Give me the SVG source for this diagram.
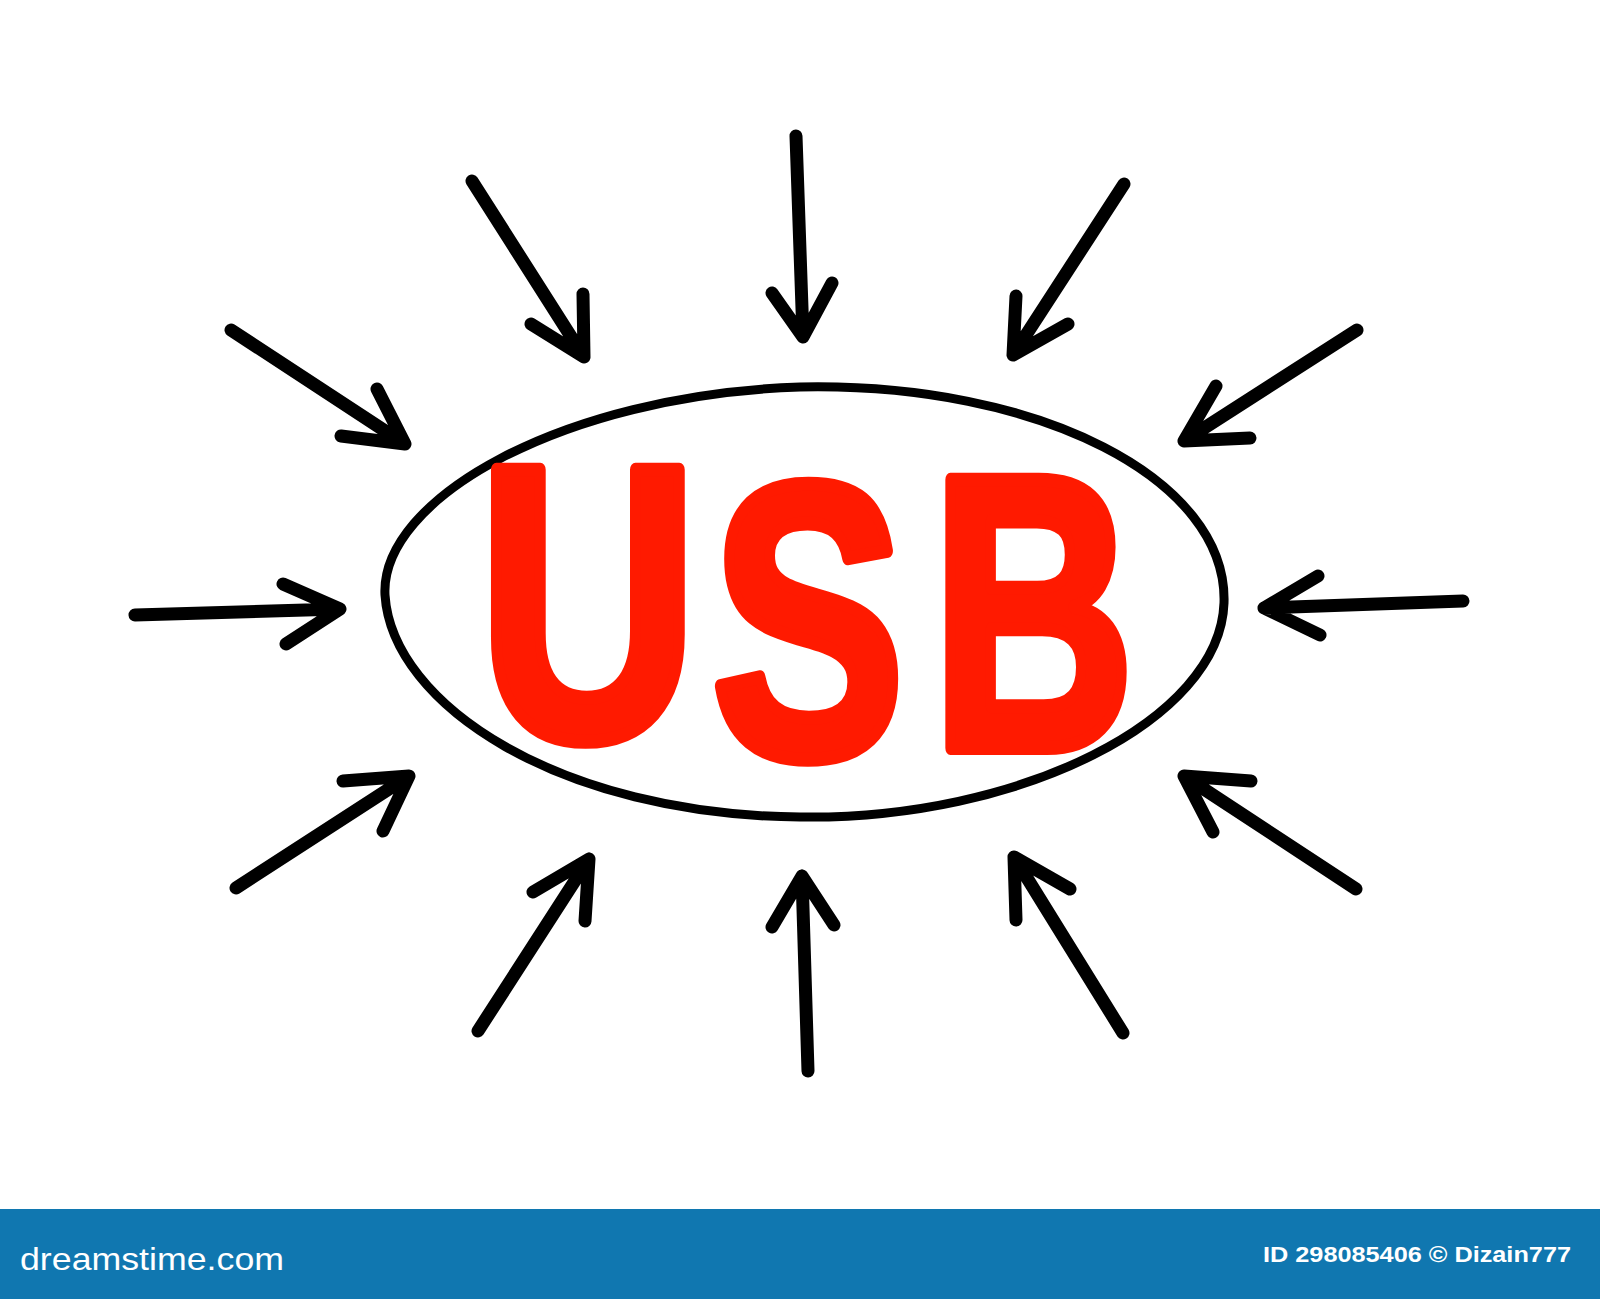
<svg xmlns="http://www.w3.org/2000/svg" width="1600" height="1299" viewBox="0 0 1600 1299">
<style>
.ar{fill:none;stroke:#000;stroke-width:13;stroke-linecap:round;stroke-linejoin:round}
.usb{font-family:"Liberation Sans",Arial,sans-serif;font-weight:bold;font-size:390px;fill:#ff1a00;stroke:#ff1a00;stroke-width:14;stroke-linejoin:round;text-anchor:middle}
.wm{font-family:"Liberation Sans",Arial,sans-serif;fill:#fff}
</style>
<rect width="1600" height="1299" fill="#fff"/>
<g id="usb-node">
<path d="M385,595 C380,500 560,395 800,387 C1040,382 1228,480 1224,603 C1220,720 1020,820 800,817 C560,815 392,705 385,595 Z" fill="none" stroke="#000" stroke-width="9" stroke-linejoin="round"/>
<text class="usb" transform="translate(588,738) scale(0.78,1)">U</text>
<text class="usb" transform="translate(808,756) scale(0.74,1)">S</text>
<text class="usb" transform="translate(1033,748) scale(0.72,1)">B</text>
</g>
<g id="connectors">
<path class="ar" d="M796,136 L803,337 M772,293 L803,337 L832,283"/>
<path class="ar" d="M472,181 L584,357 M531,324 L584,357 L583,294"/>
<path class="ar" d="M231,330 L405,444 M341,436 L405,444 L377,389"/>
<path class="ar" d="M135,615 L340,609 M283,584 L340,609 L286,644"/>
<path class="ar" d="M236,888 L409,776 M343,781 L409,776 L383,831"/>
<path class="ar" d="M478,1031 L589,859 M533,892 L589,859 L585,921"/>
<path class="ar" d="M808,1071 L802,876 M772,927 L802,876 L834,925"/>
<path class="ar" d="M1123,1033 L1014,857 M1016,920 L1014,857 L1070,889"/>
<path class="ar" d="M1356,889 L1184,776 M1213,832 L1184,776 L1251,781"/>
<path class="ar" d="M1463,601 L1264,608 M1318,576 L1264,608 L1320,635"/>
<path class="ar" d="M1357,330 L1184,441 M1216,386 L1184,441 L1250,438"/>
<path class="ar" d="M1124,184 L1013,355 M1016,296 L1013,355 L1068,324"/>
</g>
<g id="footer">
<rect x="0" y="1209" width="1600" height="90" fill="#1077b0"/>
<text class="wm" x="20" y="1270" font-size="32" textLength="264" lengthAdjust="spacingAndGlyphs">dreamstime.com</text>
<text class="wm" x="1263" y="1262" font-size="22" font-weight="bold" textLength="308" lengthAdjust="spacingAndGlyphs">ID 298085406 © Dizain777</text>
</g>
</svg>
